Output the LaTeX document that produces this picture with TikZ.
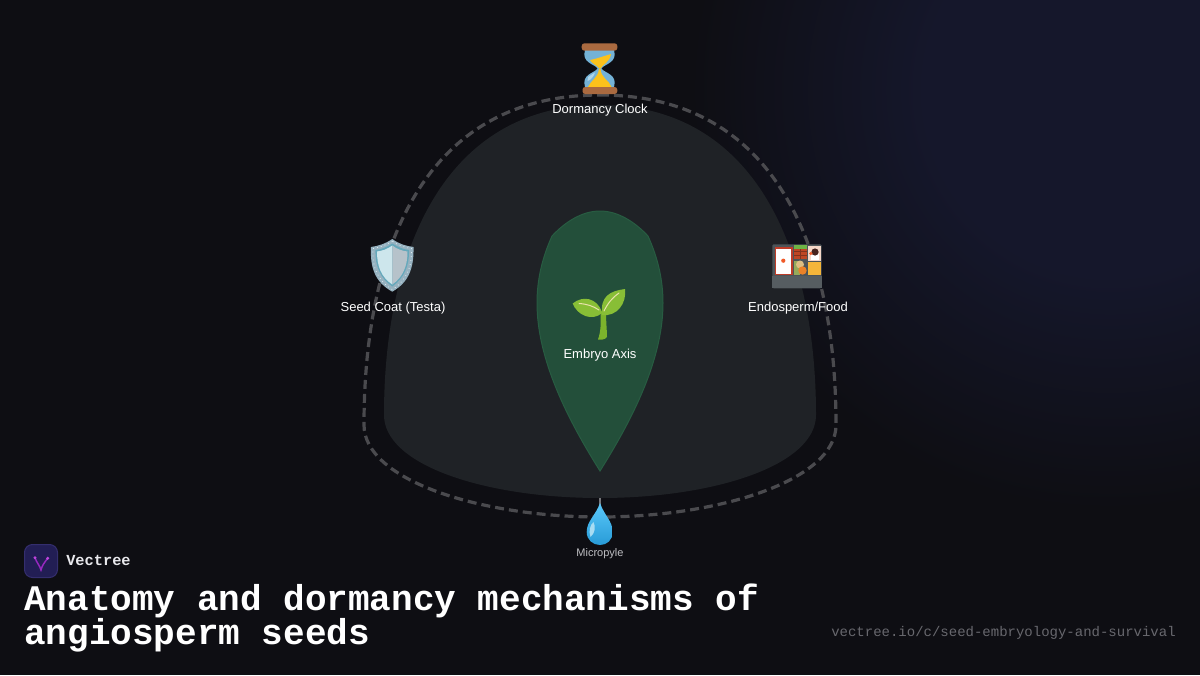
\documentclass[tikz,border=0pt]{standalone}
\usepackage{fontspec}
\setmainfont{Liberation Sans}
\setmonofont{Liberation Mono}
\usepackage{xcolor}

\definecolor{bgdark}{RGB}{14,14,19}
\definecolor{bgglow}{RGB}{21,23,43}
\definecolor{seedfill}{RGB}{31,34,38}
\definecolor{seeddash}{RGB}{74,74,78}
\definecolor{embryofill}{RGB}{35,79,58}
\definecolor{embryoedge}{RGB}{40,92,66}
\definecolor{glassblue}{RGB}{116,178,214}
\definecolor{glassshine}{RGB}{176,214,234}
\definecolor{sandyellow}{RGB}{252,194,27}
\definecolor{capbrown}{RGB}{170,106,64}
\definecolor{shieldrim}{RGB}{150,178,192}
\definecolor{shielddot}{RGB}{226,236,240}
\definecolor{shieldedge}{RGB}{100,168,187}
\definecolor{shieldlight}{RGB}{205,230,236}
\definecolor{shieldgrey}{RGB}{182,194,202}
\definecolor{boxdark}{RGB}{77,84,88}
\definecolor{boxfront}{RGB}{86,93,97}
\definecolor{riceedge}{RGB}{190,60,40}
\definecolor{plumred}{RGB}{240,90,40}
\definecolor{meatred}{RGB}{190,70,36}
\definecolor{meatdark}{RGB}{130,50,30}
\definecolor{leafgreen}{RGB}{110,180,70}
\definecolor{fishpink}{RGB}{245,215,200}
\definecolor{darkbrown}{RGB}{70,35,30}
\definecolor{sidegreen}{RGB}{150,170,90}
\definecolor{sidetan}{RGB}{220,190,130}
\definecolor{sideorange}{RGB}{235,130,40}
\definecolor{eggyellow}{RGB}{245,181,58}
\definecolor{stemgreen}{RGB}{124,179,44}
\definecolor{sproutgreen}{RGB}{136,190,54}
\definecolor{sproutvein}{RGB}{232,226,170}
\definecolor{droptop}{RGB}{90,200,250}
\definecolor{dropbottom}{RGB}{40,155,215}
\definecolor{dropshine}{RGB}{168,220,242}
\definecolor{tipgrey}{RGB}{120,120,124}
\definecolor{logoedge}{RGB}{52,46,110}
\definecolor{logofill}{RGB}{34,30,84}
\definecolor{logoline}{RGB}{150,40,190}
\definecolor{logodot}{RGB}{190,70,220}
\definecolor{microtext}{RGB}{190,190,194}
\definecolor{brandtext}{RGB}{232,232,236}
\definecolor{urltext}{RGB}{104,104,110}

\pgfdeclareradialshading{cornerglow}{\pgfpoint{0bp}{0bp}}{
  color(0bp)=(bgglow); color(11bp)=(bgglow); color(25bp)=(bgdark); color(50bp)=(bgdark)}

\tikzset{
  partlabel/.style={text=white,inner sep=0pt,font=\fontsize{9.75pt}{11pt}\selectfont},
  emoji/.style={draw=none,fill=#1},
}

\begin{document}
\begin{tikzpicture}[x=0.75pt,y=-0.75pt]
      \useasboundingbox (0,0) rectangle (1200,675);
      \fill[bgdark] (0,0) rectangle (1200,675);
      \begin{scope}
        \clip (0,0) rectangle (1200,675);
        \shade[shading=cornerglow] (1110,90) circle (420);
      \end{scope}

      \draw[draw=none,fill=seedfill]
        (600,105)
        .. controls (755,105) and (816,250) ..
        (816,415)
        .. controls (816,465) and (715,498) ..
        (600,498)
        .. controls (485,498) and (384,465) ..
        (384,415)
        .. controls (384,250) and (445,105) ..
        (600,105);
      \draw[seeddash,line width=2.4pt,dash pattern=on 6.75pt off 3.75pt]
        (600,95)
        .. controls (780,95) and (836,255) ..
        (836,425)
        .. controls (836,480) and (720,517) ..
        (600,517)
        .. controls (480,517) and (364,480) ..
        (364,425)
        .. controls (364,255) and (420,95) ..
        (600,95);
      \draw[embryoedge,fill=embryofill,line width=0.75pt]
        (600,211)
        .. controls (618,211) and (635,222) ..
        (648,236)
        .. controls (658,258) and (663,280) ..
        (663,303)
        .. controls (663,360) and (632,420) ..
        (600,471)
        .. controls (568,420) and (537,360) ..
        (537,303)
        .. controls (537,280) and (542,258) ..
        (552,236)
        .. controls (565,222) and (582,211) ..
        (600,211);

      % hourglass
      \draw[emoji=glassblue]
        (585,50)
        .. controls (581,63) and (595,64) ..
        (597.5,68.5)
        .. controls (595,73) and (581,74) ..
        (585,87)
        -- (614,87)
        .. controls (618,74) and (604,73) ..
        (601.5,68.5)
        .. controls (604,64) and (618,63) ..
        (614,50)
        -- cycle;
      \draw[emoji=sandyellow]
        (590,60)
        .. controls (596,59) and (604,56) ..
        (611,54)
        .. controls (610,62) and (603,64) ..
        (600,69)
        .. controls (597,65) and (592,64) ..
        (590,60);
      \draw[emoji=sandyellow]
        (599,69) -- (600.5,69)
        .. controls (601,78) and (609,80) ..
        (611.5,87)
        -- (588,87)
        .. controls (591,80) and (598,78) ..
        (599,69);
      \draw[emoji=glassshine]
        (588,77)
        .. controls (591,75) and (594,73) ..
        (595,72.5)
        .. controls (594,76) and (591,80) ..
        (587.5,81)
        -- cycle;
      \draw[emoji=capbrown,rounded corners=2pt]
        (581.7,43.3) rectangle (617.3,50.7);
      \draw[emoji=capbrown,rounded corners=2pt]
        (582.5,87) rectangle (617.3,94);

      % shield
      \draw[emoji=shieldrim]
        (392.3,239)
        .. controls (385,244) and (378,246) ..
        (371,247)
        .. controls (370,268) and (375,282) ..
        (392.3,291.7)
        .. controls (409,282) and (414,268) ..
        (413.5,247)
        .. controls (406,246) and (399,244) ..
        (392.3,239);
      \draw[shielddot,line width=0.6pt,dash pattern=on 0.6pt off 2.4pt]
        (392.3,241)
        .. controls (386,245.5) and (379,247.5) ..
        (373,248.5)
        .. controls (372,267) and (377,280) ..
        (392.3,289.5)
        .. controls (407,280) and (412,267) ..
        (411.5,248.5)
        .. controls (405,247.5) and (398,245.5) ..
        (392.3,241);
      \draw[emoji=shieldedge]
        (392.3,243.5)
        .. controls (387,247) and (381,249.5) ..
        (375.5,250)
        .. controls (375,266) and (380,278) ..
        (392.3,286.5)
        .. controls (404,278) and (409.5,266) ..
        (409,250)
        .. controls (403.5,249.5) and (398,247) ..
        (392.3,243.5);
      \draw[emoji=shieldlight]
        (392.3,245.5)
        .. controls (387.5,249) and (382,251) ..
        (377,251.5)
        .. controls (377,266) and (381,277) ..
        (392.3,284.5)
        -- cycle;
      \draw[emoji=shieldgrey]
        (392.3,245.5)
        .. controls (397,249) and (402,251) ..
        (407.5,251.5)
        .. controls (407.5,266) and (403,277) ..
        (392.3,284.5)
        -- cycle;

      % bento box
      \draw[emoji=boxdark,rounded corners=1pt]
        (772.3,244.3) rectangle (821.7,288.3);
      \draw[emoji=boxfront]
        (772.3,276) rectangle (821.7,287.5);
      \draw[emoji=riceedge]
        (775,247.3) rectangle (792.7,275);
      \draw[emoji=white]
        (776.3,248.6) rectangle (791.4,273.7);
      \draw[emoji=plumred]
        (783.3,260.7) circle (2.1);
      \draw[emoji=meatred]
        (794.3,248) rectangle (806.7,259.3);
      \draw[meatdark,line width=0.5pt]
        (794.3,251.5) -- (806.7,251.5)
        (794.3,255.5) -- (806.7,255.5)
        (800.5,248) -- (800.5,259.3);
      \draw[emoji=leafgreen]
        (794.3,245) rectangle (806.7,248.5);
      \draw[emoji=fishpink]
        (808.3,246) rectangle (821,260.7);
      \draw[emoji=white]
        (811,254) rectangle (819,259.5);
      \draw[emoji=darkbrown]
        (815,252) circle (3.6);
      \draw[emoji=plumred]
        (810.8,253.5) circle (1.7);
      \draw[emoji=sidegreen]
        (794.3,260.7) rectangle (800,275);
      \draw[emoji=sidetan]
        (800,264.5) circle (4);
      \draw[emoji=sideorange]
        (802.5,270.5) circle (4.2);
      \draw[emoji=eggyellow]
        (808.3,262.3) rectangle (821,275);

      % sprout
      \draw[emoji=stemgreen]
        (598,339.5)
        .. controls (601,331) and (601,322) ..
        (600.5,312)
        -- (606,312)
        .. controls (606,322) and (607,331) ..
        (607,337)
        .. controls (605,340) and (600,340) ..
        (598,339.5);
      \draw[emoji=sproutgreen]
        (602,315)
        .. controls (600,296) and (610,291) ..
        (625,289)
        .. controls (627,303) and (617,317) ..
        (602,315);
      \draw[emoji=sproutgreen]
        (602,312)
        .. controls (597,298) and (583,295) ..
        (572.7,303.5)
        .. controls (577,315) and (592,322) ..
        (602,313);
      \draw[sproutvein,line width=0.75pt,line cap=round]
        (604,311)
        .. controls (608,303) and (612,298) ..
        (619,293);
      \draw[sproutvein,line width=0.75pt,line cap=round]
        (599,310)
        .. controls (593,306) and (587,304) ..
        (579,303.5);

      % micropyle drop
      \coordinate (seedbottom) at (600,498);
      \coordinate (droptip) at (600,505);
      \draw[tipgrey,line width=1.5pt] (seedbottom) -- (droptip);
      \shade[top color=droptop,bottom color=dropbottom]
        (600,503)
        .. controls (604,515) and (612.7,521) ..
        (612.7,532)
        .. controls (612.7,540) and (607,545) ..
        (600,545)
        .. controls (593,545) and (586.7,540) ..
        (586.7,532)
        .. controls (586.7,521) and (596,515) ..
        (600,503);
      \draw[emoji=dropshine]
        (590.5,537)
        .. controls (588.5,531) and (590,525) ..
        (593.5,522)
        .. controls (596,527) and (595,533) ..
        (590.5,537);

      % logo
      \draw[logoedge,fill=logofill,line width=0.75pt,rounded corners=6pt]
        (24.5,544.5) rectangle (57.5,577.5);
      \draw[logoline,line width=1.1pt,line cap=round]
        (35,558) .. controls (37,563) and (40,566) .. (41,570)
        .. controls (42,566) and (44,563) .. (47.5,558.5);
      \draw[emoji=logodot] (35,557.7) circle (1.7);
      \draw[emoji=logodot] (47.7,558.3) circle (1.7);

      \node[partlabel] (dormancy) at (600,110) {Dormancy Clock};
      \node[partlabel] (testa) at (393,308) {Seed Coat (Testa)};
      \node[partlabel] (endosperm) at (798,308) {Endosperm/Food};
      \node[partlabel] (embryo) at (600,355) {Embryo Axis};
      \node[partlabel,text=microtext,font=\fontsize{8.25pt}{10pt}\selectfont] (micropyle) at (600,553.5) {Micropyle};
      \node[anchor=west,inner sep=0pt,text=brandtext,font=\ttfamily\bfseries\fontsize{11.5pt}{14pt}\selectfont] (brand) at (66,560.5) {Vectree};
      \node[anchor=west,inner sep=0pt,align=left,text=white,font=\ttfamily\bfseries\fontsize{27pt}{24.75pt}\selectfont] (title) at (24,618) {Anatomy and dormancy mechanisms of\\angiosperm seeds};
      \node[anchor=east,inner sep=0pt,text=urltext,font=\ttfamily\fontsize{10.5pt}{12pt}\selectfont] (sourceurl) at (1176,633) {vectree.io/c/seed-embryology-and-survival};
    \end{tikzpicture}
\end{document}
